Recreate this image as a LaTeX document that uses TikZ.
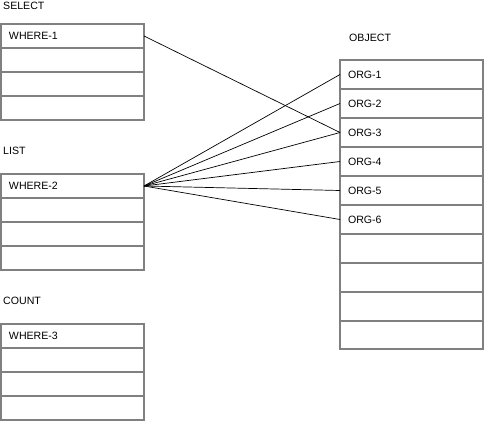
\documentclass[tikz,border=0pt]{standalone}
\usepackage{fontspec}
\setmainfont{Liberation Sans}
\usepackage{tikz}
\usetikzlibrary{positioning}
\definecolor{table-grey}{HTML}{808080}

\begin{document}
\begin{tikzpicture}[x=1pt,y=-1pt,node distance=0pt]
  \tikzstyle{every node}=[font=\fontsize{10.6}{12}\selectfont]
  \tikzstyle{title}=[anchor=west,inner sep=0pt]
  \tikzstyle{row}=[draw=table-grey,line width=1.4pt,outer sep=0pt,text width=127pt,inner xsep=8pt,inner ysep=0pt,minimum height=24pt,align=left]
  \tikzstyle{orgrow}=[row,minimum height=29pt]
  \tikzstyle{link}=[black,line width=0.7pt]

  \useasboundingbox (0,0) rectangle (484,422);

  %% SELECT table
  \node[title]                    (select) at (3,6)  {SELECT};
  \node[row,anchor=north west]    (w1)     at (1,24) {WHERE-1};
  \node[row,below=of w1]          (s2)               {};
  \node[row,below=of s2]          (s3)               {};
  \node[row,below=of s3]          (s4)               {};

  %% LIST table
  \node[title]                    (list)   at (3,151) {LIST};
  \node[row,anchor=north west]    (w2)     at (1,174) {WHERE-2};
  \node[row,below=of w2]          (l2)                {};
  \node[row,below=of l2]          (l3)                {};
  \node[row,below=of l3]          (l4)                {};

  %% COUNT table
  \node[title]                    (count)  at (3,301) {COUNT};
  \node[row,anchor=north west]    (w3)     at (1,324) {WHERE-3};
  \node[row,below=of w3]          (c2)                {};
  \node[row,below=of c2]          (c3)                {};
  \node[row,below=of c3]          (c4)                {};

  %% OBJECT table
  \node[title]                    (object) at (349,38) {OBJECT};
  \node[orgrow,anchor=north west] (o1)     at (340,60) {ORG-1};
  \node[orgrow,below=of o1]       (o2)                 {ORG-2};
  \node[orgrow,below=of o2]       (o3)                 {ORG-3};
  \node[orgrow,below=of o3]       (o4)                 {ORG-4};
  \node[orgrow,below=of o4]       (o5)                 {ORG-5};
  \node[orgrow,below=of o5]       (o6)                 {ORG-6};
  \node[orgrow,below=of o6]       (o7)                 {};
  \node[orgrow,below=of o7]       (o8)                 {};
  \node[orgrow,below=of o8]       (o9)                 {};
  \node[orgrow,below=of o9,minimum height=28pt] (o10) {};

  %% links
  \path[link]
  (w1.east) edge (o3.west)

  (w2.east) edge (o1.west)
  (w2.east) edge (o2.west)
  (w2.east) edge (o3.west)
  (w2.east) edge (o4.west)
  (w2.east) edge (o5.west)
  (w2.east) edge (o6.west);
\end{tikzpicture}
\end{document}
